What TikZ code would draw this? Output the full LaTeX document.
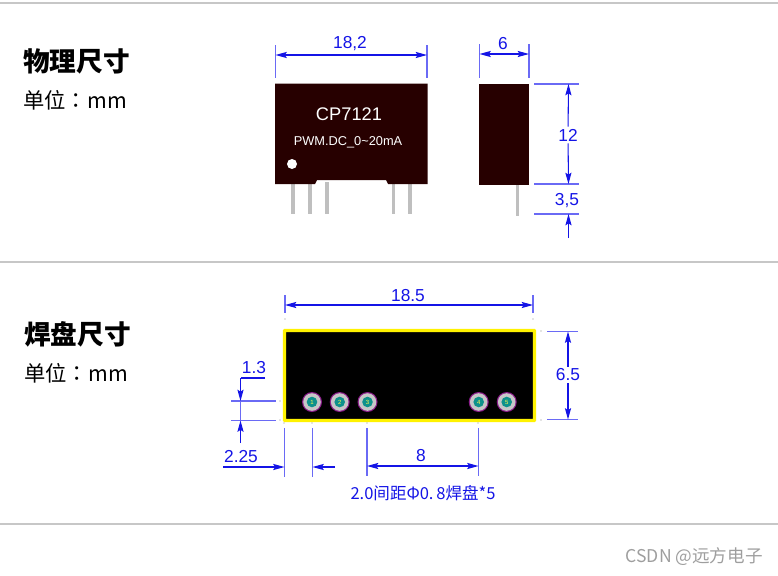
\documentclass[tikz,border=0pt]{standalone}
\usepackage{xcolor}
\usepackage{fontspec}
\setmainfont{Liberation Sans}
\newfontfamily\cjk{Noto Sans CJK SC}
\newfontfamily\cjktc{Noto Sans CJK TC}
\usetikzlibrary{arrows.meta}
\usetikzlibrary{positioning}
\definecolor{dimblue}{HTML}{1414E6}
\definecolor{extblue}{HTML}{6A6AF5}
\definecolor{bodydark}{HTML}{270000}
\definecolor{pinteal}{HTML}{0E918C}
\definecolor{ringpurple}{HTML}{8A1C8A}
\tikzstyle{sepline} = [line width=2.2pt, draw=black!22]
\tikzstyle{pin} = [line width=2.3pt, draw=black!25]
\tikzstyle{extline} = [line width=0.8pt, draw=extblue]
\tikzstyle{dimarrow} = [line width=0.8pt, draw=dimblue, -{Stealth[length=8.5pt,width=4.6pt,inset=1.5pt]}]
\tikzstyle{dimlabel} = [text=dimblue, font=\fontsize{13}{15}\selectfont, inner sep=1.5pt]
\tikzstyle{heading} = [anchor=west, inner sep=0pt, font=\fontsize{20}{22}\selectfont\cjk\bfseries]
\tikzstyle{unit} = [anchor=west, inner sep=0pt, font=\fontsize{16}{18}\selectfont\cjk]

\begin{document}
\begin{tikzpicture}[x=0.75pt,y=-0.75pt]
    \useasboundingbox (0,0) rectangle (778,575);
    \draw[sepline] (0,3)--(778,3);
    \draw[sepline] (0,262)--(778,262);
    \draw[sepline] (0,524)--(778,524);

    % section titles
    \node(title1)[heading] at (23,61){物理尺寸};
    \node(unit1)[unit] at (23,100){单位{\cjktc ：}mm};
    \node(title2)[heading] at (24,334){焊盘尺寸};
    \node(unit2)[unit] at (24,373){单位{\cjktc ：}mm};
    \node(mark)[anchor=east, inner sep=0pt, text=black!38, font=\fontsize{13.2}{15}\selectfont\cjk] at (763,557){CSDN @远方电子};

    % module, front and side
    \foreach \x in {293,310,327,393.5,410}
      \draw[pin] (\x,182)--(\x,214);
    \draw[pin] (517.5,182)--(517.5,216);
    \fill[bodydark] (275,83.5)--(427.5,83.5)--(427.5,184)--(388,184)--(386,180)--(317,180)--(315,184)--(275,184)--cycle;
    \fill[bodydark] (479,84)rectangle(529,184.5);
    \node(part)[text=white, font=\fontsize{13.7}{15}\selectfont] at (349,114){CP7121};
    \node(spec)[text=white, font=\fontsize{9.6}{11}\selectfont] at (348,142){PWM.DC\_0\textasciitilde 20mA};
    \fill[white] (292,164) circle (5);

    % dimensions of the module
    \draw[extline] (275.5,45)--(275.5,78);
    \draw[extline] (427,45)--(427,78);
    \node(w1)[dimlabel] at (350,43.5){18,2};
    \draw[dimarrow] (351,55)--(275.5,55);
    \draw[dimarrow] (351,55)--(427,55);
    \draw[extline] (479.5,44)--(479.5,78);
    \draw[extline] (529,44)--(529,78);
    \node(w2)[dimlabel] at (503,43.5){6};
    \draw[dimarrow] (504,54)--(479.5,54);
    \draw[dimarrow] (504,54)--(529,54);
    \draw[extline] (534,84)--(579,84);
    \draw[extline] (534,184)--(579,184);
    \draw[extline] (534,214)--(579,214);
    \node(h1)[dimlabel] at (568,135){12};
    \draw[dimarrow] (h1)--(568.5,84);
    \draw[dimarrow] (h1)--(568.5,184);
    \node(h2)[dimlabel] at (567,200.5){3,5};
    \draw[dimarrow] (568.5,238)--(568.5,214);

    % land pattern
    \draw[line width=2.6pt, draw=yellow, fill=black, rounded corners=0.5pt] (284.5,330.5)rectangle(534.5,420.5);
    \foreach \x/\n in {312/1,339.7/2,367.5/3,478.7/4,506.7/5}{
      \fill[ringpurple] (\x,402) circle (10);
      \fill[black!22] (\x,402) circle (8.8);
      \fill[pinteal] (\x,402) circle (5.3);
      \node(pad\n)[text=yellow!70, inner sep=0pt, font=\fontsize{4.5}{5}\selectfont] at (\x,402){\n};
    }

    % dimensions of the land pattern
    \foreach \x/\y in {285/319,533/319,541/331,541/420,280/401,280/420,284/423,312/423,367/423,478/423}
      \fill[black!45] (\x,\y) circle (0.6);
    \draw[extline] (285,295)--(285,313);
    \draw[extline] (533,295)--(533,313);
    \node(w3)[dimlabel] at (408,295.5){18.5};
    \draw[dimarrow] (409,305)--(285,305);
    \draw[dimarrow] (409,305)--(533,305);
    \draw[extline] (547,331.5)--(578,331.5);
    \draw[extline] (547,419.5)--(578,419.5);
    \node(h3)[dimlabel] at (568,375){6.5};
    \draw[dimarrow] (h3)--(568,331.5);
    \draw[dimarrow] (h3)--(568,419.5);

    \draw[extline] (231,401)--(276,401);
    \draw[extline] (231,420.5)--(276,420.5);
    \draw[extline] (240.5,401)--(240.5,420.5);
    \node(pitch1)[dimlabel] at (254,368){1.3};
    \draw[line width=0.8pt, draw=dimblue] (265,378)--(240.5,378);
    \draw[dimarrow] (240.5,378)--(240.5,401);
    \draw[dimarrow] (240.5,443)--(240.5,420.5);

    \draw[extline] (284.5,428)--(284.5,477);
    \draw[extline] (312.5,428)--(312.5,477);
    \node(pitch2)[dimlabel] at (241,457){2.25};
    \draw[dimarrow] (223,467)--(284.5,467);
    \draw[dimarrow] (335,467)--(312.5,467);

    \draw[extline] (367,428)--(367,476);
    \draw[extline] (478.5,428)--(478.5,476);
    \node(pitch3)[dimlabel] at (421,456){8};
    \draw[dimarrow] (422,466)--(367,466);
    \draw[dimarrow] (422,466)--(478.5,466);
    \node(note)[text=dimblue, inner sep=0pt, font=\fontsize{12.4}{14}\selectfont\cjk] at (423,493){2.0间距Φ0.\,8焊盘*5};
\end{tikzpicture}
\end{document}
